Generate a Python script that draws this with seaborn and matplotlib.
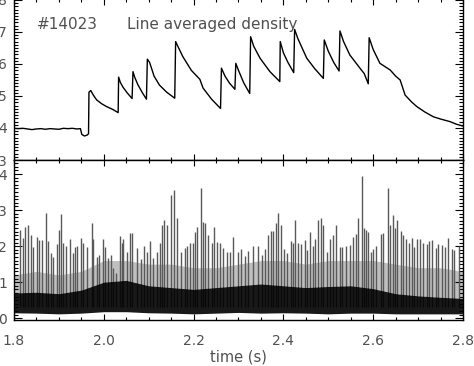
import numpy as np
import pandas as pd
import seaborn as sns
import matplotlib.pyplot as plt
from matplotlib.ticker import MultipleLocator, FormatStrFormatter

# --- estilo ---
sns.set_style("ticks")
plt.rcParams["font.family"] = ["DejaVu Sans"]
txt_color = "#505050"

# --- densidade media de linha (painel de cima) ---
dens_t = [1.800, 1.810, 1.820, 1.830, 1.840, 1.850, 1.860, 1.870, 1.880, 1.890,
          1.900, 1.910, 1.920, 1.930, 1.940, 1.948, 1.951, 1.957, 1.963, 1.966,
          1.967, 1.971, 1.977, 1.984, 1.995, 2.006, 2.020, 2.032, 2.033, 2.037,
          2.043, 2.052, 2.063, 2.065, 2.069, 2.076, 2.086, 2.095, 2.097, 2.102,
          2.112, 2.124, 2.140, 2.158, 2.160, 2.164, 2.176, 2.195, 2.214, 2.221,
          2.240, 2.260, 2.262, 2.270, 2.280, 2.292, 2.294, 2.300, 2.312, 2.325,
          2.327, 2.334, 2.348, 2.370, 2.392, 2.393, 2.400, 2.410, 2.423, 2.425,
          2.432, 2.452, 2.470, 2.489, 2.491, 2.500, 2.512, 2.524, 2.526, 2.534,
          2.548, 2.571, 2.580, 2.589, 2.591, 2.600, 2.615, 2.638, 2.650, 2.660,
          2.671, 2.685, 2.697, 2.715, 2.734, 2.750, 2.771, 2.785, 2.800]
dens_n = [3.99, 3.98, 3.99, 3.97, 3.95, 3.97, 3.98, 3.96, 3.98, 3.97,
          3.96, 3.99, 3.98, 3.99, 3.97, 3.98, 3.80, 3.75, 3.78, 3.82,
          5.12, 5.17, 5.02, 4.88, 4.76, 4.67, 4.58, 4.48, 5.59, 5.42,
          5.27, 5.10, 4.92, 5.76, 5.58, 5.35, 5.10, 4.90, 6.15, 6.05,
          5.62, 5.34, 5.12, 4.93, 6.70, 6.58, 6.23, 5.80, 5.52, 5.25,
          4.90, 4.61, 5.87, 5.62, 5.40, 5.21, 6.02, 5.80, 5.40, 5.08,
          6.85, 6.55, 6.18, 5.76, 5.45, 6.70, 6.35, 6.05, 5.73, 7.08,
          6.80, 6.18, 5.85, 5.55, 6.75, 6.40, 6.05, 5.78, 7.03, 6.70,
          6.28, 5.86, 5.70, 5.38, 6.82, 6.45, 6.02, 5.81, 5.62, 5.50,
          5.03, 4.82, 4.67, 4.50, 4.35, 4.28, 4.20, 4.12, 4.06]

# --- sinal de baixo: picos ---
spike_t = [1.813, 1.821, 1.825, 1.832, 1.837, 1.842, 1.851, 1.856, 1.862, 1.871,
           1.876, 1.882, 1.888, 1.895, 1.900, 1.905, 1.910, 1.915, 1.925, 1.931,
           1.936, 1.941, 1.949, 1.954, 1.963, 1.973, 1.977, 1.984, 1.990, 1.998,
           2.003, 2.009, 2.016, 2.021, 2.027, 2.036, 2.040, 2.043, 2.051, 2.058,
           2.063, 2.073, 2.082, 2.090, 2.096, 2.104, 2.110, 2.118, 2.125, 2.130,
           2.135, 2.141, 2.149, 2.156, 2.164, 2.171, 2.181, 2.186, 2.192, 2.198,
           2.203, 2.208, 2.216, 2.222, 2.225, 2.233, 2.240, 2.245, 2.253, 2.259,
           2.266, 2.274, 2.281, 2.288, 2.300, 2.305, 2.314, 2.322, 2.333, 2.344,
           2.352, 2.359, 2.366, 2.372, 2.376, 2.384, 2.389, 2.394, 2.401, 2.409,
           2.417, 2.421, 2.426, 2.433, 2.439, 2.448, 2.453, 2.459, 2.465, 2.470,
           2.476, 2.483, 2.489, 2.496, 2.504, 2.511, 2.517, 2.525, 2.530, 2.539,
           2.548, 2.556, 2.562, 2.567, 2.575, 2.580, 2.584, 2.588, 2.595, 2.600,
           2.606, 2.617, 2.622, 2.634, 2.637, 2.643, 2.649, 2.654, 2.661, 2.667,
           2.673, 2.680, 2.686, 2.691, 2.697, 2.704, 2.712, 2.719, 2.725, 2.732,
           2.739, 2.745, 2.753, 2.760, 2.767, 2.775, 2.781, 2.790]
spike_h = [2.44, 2.22, 2.54, 2.58, 2.30, 1.98, 2.26, 2.17, 2.17, 2.93,
           2.14, 1.80, 1.69, 2.05, 2.44, 2.89, 2.09, 2.00, 2.19, 1.80,
           1.97, 2.00, 2.23, 2.10, 1.97, 2.65, 2.20, 1.69, 1.75, 2.20,
           1.97, 1.67, 1.75, 1.40, 1.26, 2.28, 2.08, 2.20, 1.85, 2.37,
           2.37, 1.95, 1.63, 2.00, 1.85, 2.14, 1.67, 1.85, 2.10, 2.58,
           2.72, 2.58, 3.42, 3.56, 2.77, 1.85, 1.95, 2.00, 2.10, 2.10,
           2.40, 2.54, 3.60, 2.68, 2.63, 2.31, 2.10, 2.54, 2.12, 2.10,
           1.95, 1.85, 1.85, 2.25, 1.85, 1.93, 1.72, 1.87, 2.00, 2.00,
           1.75, 1.93, 2.30, 2.43, 2.43, 2.63, 2.93, 2.58, 1.93, 1.80,
           2.13, 2.08, 2.72, 2.10, 2.05, 2.17, 1.90, 2.40, 2.00, 2.20,
           2.72, 2.77, 2.58, 1.85, 2.20, 2.30, 2.58, 1.97, 1.97, 2.00,
           2.03, 2.25, 2.33, 2.77, 3.94, 2.50, 2.45, 2.40, 1.85, 1.93,
           2.00, 2.33, 2.35, 3.60, 2.58, 2.86, 2.50, 2.72, 2.43, 2.30,
           2.20, 2.08, 2.22, 1.97, 2.20, 2.20, 2.08, 2.05, 2.15, 2.17,
           1.95, 2.05, 2.02, 1.97, 2.23, 1.93, 1.90, 2.00]

# --- sinal de baixo: faixa de ruido de base (preta) e zona densa (cinza) ---
band_t = [1.80, 1.85, 1.90, 1.95, 2.00, 2.05, 2.10, 2.15, 2.20, 2.25, 2.30,
          2.35, 2.40, 2.45, 2.50, 2.55, 2.60, 2.65, 2.70, 2.75, 2.80]
band_lo = [0.15, 0.14, 0.12, 0.14, 0.18, 0.18, 0.15, 0.14, 0.12, 0.14, 0.16,
           0.14, 0.15, 0.14, 0.12, 0.14, 0.14, 0.12, 0.12, 0.12, 0.12]
band_hi = [0.70, 0.72, 0.68, 0.78, 1.00, 1.05, 0.90, 0.85, 0.80, 0.85, 0.90,
           0.95, 0.90, 0.85, 0.88, 0.90, 0.82, 0.68, 0.62, 0.58, 0.55]
band_mid = [1.20, 1.30, 1.20, 1.30, 1.60, 1.60, 1.50, 1.50, 1.40, 1.40, 1.50,
            1.60, 1.60, 1.50, 1.60, 1.60, 1.60, 1.50, 1.40, 1.40, 1.30]

df_top = pd.DataFrame({"t": dens_t, "n": dens_n})

# --- figura ---
fig = plt.figure(figsize=(4.74, 3.66), dpi=100)
ax1 = fig.add_axes([0.0295, 0.5628, 0.9473, 0.4400])
ax2 = fig.add_axes([0.0295, 0.1257, 0.9473, 0.4372])

sns.lineplot(data=df_top, x="t", y="n", sort=False, estimator=None,
             color="black", lw=1.0, ax=ax1)
ax1.set_xlim(1.8, 2.8)
ax1.set_ylim(3, 8.03)
ax1.text(1.851, 7.22, "#14023", fontsize=11, color=txt_color, va="center")
ax1.text(2.052, 7.22, "Line averaged density", fontsize=11, color=txt_color,
         va="center")

ax2.fill_between(band_t, band_hi, band_mid, color="black", lw=0, alpha=0.25,
                 zorder=1)
ax2.vlines(spike_t, 0.3, spike_h, color="0.35", lw=1.0, zorder=2)
ax2.fill_between(band_t, band_lo, band_hi, color="black", lw=0, alpha=0.9,
                 zorder=3)
ax2.set_xlim(1.8, 2.8)
ax2.set_ylim(-0.05, 4.39)

for ax in (ax1, ax2):
    ax.set_xlabel("")
    ax.set_ylabel("")
    ax.xaxis.set_major_locator(MultipleLocator(0.2))
    ax.xaxis.set_minor_locator(MultipleLocator(0.05))
    ax.yaxis.set_major_locator(MultipleLocator(1))
    ax.yaxis.set_minor_locator(MultipleLocator(0.1))
    ax.tick_params(which="both", direction="in", top=True, right=True,
                   colors="black", labelcolor=txt_color, labelsize=10, width=0.8)
    ax.tick_params(axis="y", which="major", length=6, pad=5)
    ax.tick_params(axis="y", which="minor", length=3)
    ax.tick_params(axis="x", which="major", length=4, pad=10)
    ax.tick_params(axis="x", which="minor", length=2.5)
    for s in ax.spines.values():
        s.set_linewidth(1.0)
        s.set_color("black")

ax1.tick_params(labelbottom=False)
ax2.xaxis.set_major_formatter(FormatStrFormatter("%.1f"))
ax2.set_xlabel("time (s)", fontsize=10.5, color=txt_color, labelpad=1)

fig.savefig("out.png", dpi=100)
